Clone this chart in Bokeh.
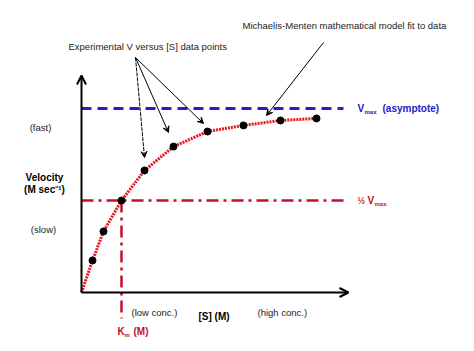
from bokeh.plotting import figure
from bokeh.models import Range1d, Label, Arrow, OpenHead, VeeHead
from bokeh.embed import file_html
from bokeh.resources import INLINE

# ---- data (S in units of Km, V in units of Vmax) ----
substrate = [0.275, 0.55, 1.0, 1.575, 2.3, 3.15, 4.05, 4.975, 5.875]
velocity = [0.174, 0.332, 0.5, 0.663, 0.793, 0.875, 0.908, 0.935, 0.946]
km = 1.0
vmax = 1.0
fit_s = [0.0] + substrate
fit_v = [0.0] + velocity

W, H = 474, 351
OX, OY = 81, 292          # pixel position of origin
SX, SY = 40.0, 184.0      # pixels per data unit


def X(px):
    return (px - OX) / SX


def Y(py):
    return (OY - py) / SY


p = figure(width=W, height=H, x_range=Range1d(X(0), X(W)), y_range=Range1d(Y(H), Y(0)),
           output_backend="svg", toolbar_location=None, min_border=0,
           x_axis_location=None, y_axis_location=None)
p.grid.visible = False
p.outline_line_color = None
p.background_fill_color = "white"

BLUE = "#2020cc"
DRED = "#c0102a"
RED = "#e8141e"
TXT = "#222222"
FONT = "Liberation Sans"

# reference lines
p.line([0, X(343)], [vmax, vmax], line_color=BLUE, line_width=3, line_dash="10 6")
p.line([0, X(343)], [vmax / 2, vmax / 2], line_color=DRED, line_width=2.5, line_dash="12 5 3 5")
p.line([km, km], [vmax / 2, Y(318)], line_color=DRED, line_width=2.5, line_dash="12 5 3 5")

# axes with arrow heads
p.add_layout(Arrow(end=OpenHead(size=9, line_width=2, line_color="black"),
                   x_start=0, y_start=0, x_end=X(348), y_end=0, line_width=2, line_color="black"))
p.add_layout(Arrow(end=OpenHead(size=9, line_width=2, line_color="black"),
                   x_start=0, y_start=0, x_end=0, y_end=Y(75), line_width=2, line_color="black"))

# fitted curve and data points
p.line(fit_s, fit_v, line_color=RED, line_width=3, line_dash="2 1", line_join="round")
p.scatter(substrate, velocity, size=7, color="black")

# annotation arrows
def arrow(x0, y0, x1, y1, dash="solid"):
    p.add_layout(Arrow(end=VeeHead(size=6, line_width=1, fill_color="black", line_color="black"),
                       x_start=X(x0), y_start=Y(y0), x_end=X(x1), y_end=Y(y1),
                       line_width=1, line_color="black", line_dash=dash))

arrow(135, 57, 144, 157, "4 1")
arrow(135, 57, 168, 132)
arrow(135, 57, 203, 123)
arrow(323, 42, 266, 115)


def lab(text, x, y, size=10, color=TXT, bold=False, align="left"):
    p.add_layout(Label(x=X(x), y=Y(y), text=text, text_font=FONT, text_font_size=f"{size}px",
                       text_color=color, text_font_style="bold" if bold else "normal",
                       text_align=align, text_baseline="middle"))


lab("Michaelis-Menten mathematical model fit to data", 242, 25, 9.5)
lab("Experimental V versus [S] data points", 68, 46, 9.5)
lab("(fast)", 40, 127, 9.5, align="center")
lab("Velocity", 44, 177, 10, color="black", bold=True, align="center")
lab("(M sec\u207b\u00b9)", 44, 189, 10, color="black", bold=True, align="center")
lab("(slow)", 43, 229, 9.5, align="center")
lab("(low conc.)", 131, 312, 9.5)
lab("[S] (M)", 198, 316, 10, color="black", bold=True)
lab("(high conc.)", 257, 312, 9.5)

# Km label
lab("K", 117, 331, 10, color=DRED, bold=True)
lab("m", 124, 334, 6, color=DRED, bold=True)
lab("(M)", 133, 331, 10, color=DRED, bold=True)

# Vmax labels
lab("V", 357, 108, 10, color=BLUE, bold=True)
lab("max", 364, 111, 6, color=BLUE, bold=True)
lab("(asymptote)", 382, 108, 10, color=BLUE, bold=True)
lab("\u00bd", 357, 200, 9, color=DRED, bold=True)
lab("V", 367, 200, 10, color=DRED, bold=True)
lab("max", 374, 203, 6, color=DRED, bold=True)

open("out.html", "w").write(file_html(p, INLINE))
